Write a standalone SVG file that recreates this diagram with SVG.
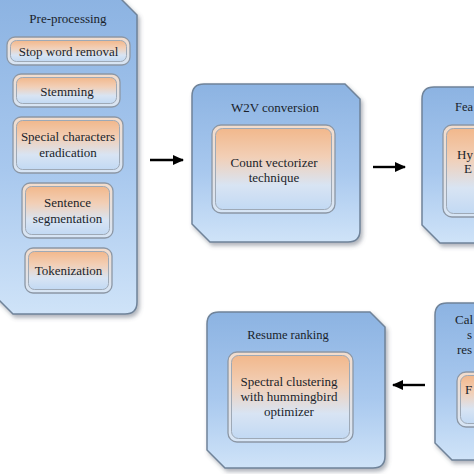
<svg xmlns="http://www.w3.org/2000/svg" width="474" height="474" viewBox="0 0 474 474">
  <defs>
    <linearGradient id="outerG" x1="0" y1="0" x2="0" y2="1">
      <stop offset="0" stop-color="#8cb3e2"/>
      <stop offset="0.55" stop-color="#a8c8ee"/>
      <stop offset="1" stop-color="#cfe3f8"/>
    </linearGradient>
    <linearGradient id="coreG" x1="0" y1="0" x2="0" y2="1">
      <stop offset="0" stop-color="#f2b88c"/>
      <stop offset="0.35" stop-color="#f2cfb6"/>
      <stop offset="0.7" stop-color="#d8e4f3"/>
      <stop offset="1" stop-color="#c2d9f3"/>
    </linearGradient>
    <linearGradient id="frameG" x1="0" y1="0" x2="0" y2="1">
      <stop offset="0" stop-color="#f3dccb"/>
      <stop offset="1" stop-color="#d6e5f6"/>
    </linearGradient>
    <filter id="shadow" x="-10%" y="-10%" width="125%" height="125%">
      <feDropShadow dx="2" dy="3" stdDeviation="2" flood-color="#4a5566" flood-opacity="0.45"/>
    </filter>
    <marker id="arrow" markerUnits="userSpaceOnUse" markerWidth="11" markerHeight="10" refX="10" refY="5" orient="auto">
      <path d="M0,0 L11,5 L0,10 Z" fill="#000"/>
    </marker>
  </defs>
  <style>
    .outer { fill: url(#outerG); stroke: #6f8399; stroke-width: 1.5; filter: url(#shadow); }
    .frame { fill: url(#frameG); stroke: #8c97a5; stroke-width: 1.3; }
    .core { fill: url(#coreG); stroke: #9ea9b6; stroke-width: 1; }
    text { font-family: "Liberation Serif", "DejaVu Serif", serif; font-size: 13px; fill: #1a1f2b; }
    .t { text-anchor: middle; }
    .ts { text-anchor: start; }
    .conn { stroke: #000; stroke-width: 2.4; fill: none; marker-end: url(#arrow); }
  </style>
  <rect width="474" height="474" fill="#ffffff"/>

  <g id="preprocessing">
    <path class="outer" d="M 8,-3 L 119,-3 L 137,15 L 137,302 Q 137,314 125,314 L 13,314 L -4,297 L -4,9 Q -4,-3 8,-3 Z"/>
    <text class="t" x="68" y="23">Pre-processing</text>
    <g id="stopword">
      <rect class="frame" x="7" y="37" width="123" height="28" rx="8"/>
      <rect class="core" x="10.5" y="40.5" width="116" height="21" rx="6"/>
      <text class="t" x="68.5" y="56">Stop word removal</text>
    </g>
    <g id="stemming">
      <rect class="frame" x="13" y="74" width="107" height="33" rx="8"/>
      <rect class="core" x="16.5" y="77.5" width="100" height="26" rx="6"/>
      <text class="t" x="67" y="96">Stemming</text>
    </g>
    <g id="special">
      <rect class="frame" x="13" y="117" width="110" height="56" rx="8"/>
      <rect class="core" x="16.5" y="120.5" width="103" height="49" rx="6"/>
      <text class="t" x="68" y="141">Special characters</text>
      <text class="t" x="68" y="157">eradication</text>
    </g>
    <g id="sentence">
      <rect class="frame" x="22" y="183" width="91" height="55" rx="8"/>
      <rect class="core" x="25.5" y="186.5" width="84" height="48" rx="6"/>
      <text class="t" x="67.5" y="207">Sentence</text>
      <text class="t" x="67.5" y="223">segmentation</text>
    </g>
    <g id="tokenization">
      <rect class="frame" x="25" y="248" width="87" height="45" rx="8"/>
      <rect class="core" x="28.5" y="251.5" width="80" height="38" rx="6"/>
      <text class="t" x="68.5" y="275">Tokenization</text>
    </g>
  </g>

  <g id="w2v">
    <path class="outer" d="M 204,84 L 345,84 L 360,99 L 360,230 Q 360,242 348,242 L 210,242 L 192,224 L 192,96 Q 192,84 204,84 Z"/>
    <text class="t" x="275" y="112">W2V conversion</text>
    <rect class="frame" x="212" y="125" width="123" height="88" rx="9"/>
    <rect class="core" x="215.5" y="128.5" width="116" height="81" rx="7"/>
    <text class="t" x="274" y="167">Count vectorizer</text>
    <text class="t" x="274" y="182">technique</text>
  </g>

  <g id="feature">
    <path class="outer" d="M 434,87 L 480,87 L 480,243 L 440,243 L 422,225 L 422,99 Q 422,87 434,87 Z"/>
    <text class="ts" x="455" y="111" style="font-size:12.5px">Fea</text>
    <rect class="frame" x="443" y="125" width="45" height="92" rx="9"/>
    <rect class="core" x="446.5" y="128.5" width="40" height="85" rx="7"/>
    <text class="ts" x="457" y="159">Hy</text>
    <text class="ts" x="464" y="173">E</text>
  </g>

  <g id="calculation">
    <path class="outer" d="M 447,303 L 480,303 L 480,460 L 452,460 L 435,443 L 435,315 Q 435,303 447,303 Z"/>
    <text class="ts" x="455" y="324">Cal</text>
    <text class="ts" x="467" y="339">s</text>
    <text class="ts" x="457" y="354">res</text>
    <rect class="frame" x="457" y="372" width="30" height="55" rx="9"/>
    <rect class="core" x="460.5" y="375.5" width="25" height="48" rx="7"/>
    <text class="ts" x="465" y="394">F</text>
  </g>

  <g id="ranking">
    <path class="outer" d="M 219,312 L 370,312 L 385,327 L 385,456 Q 385,468 373,468 L 225,468 L 207,450 L 207,324 Q 207,312 219,312 Z"/>
    <text class="t" x="288" y="339" style="font-size:12.5px">Resume ranking</text>
    <rect class="frame" x="228" y="352" width="125" height="90" rx="9"/>
    <rect class="core" x="231.5" y="355.5" width="118" height="83" rx="7"/>
    <text class="t" x="289" y="386">Spectral clustering</text>
    <text class="t" x="289" y="401">with hummingbird</text>
    <text class="t" x="289" y="416">optimizer</text>
  </g>

  <g id="connectors">
    <line class="conn" x1="150" y1="160" x2="183" y2="160"/>
    <line class="conn" x1="373" y1="167" x2="405" y2="167"/>
    <line class="conn" x1="425" y1="385" x2="393" y2="385"/>
  </g>
</svg>
